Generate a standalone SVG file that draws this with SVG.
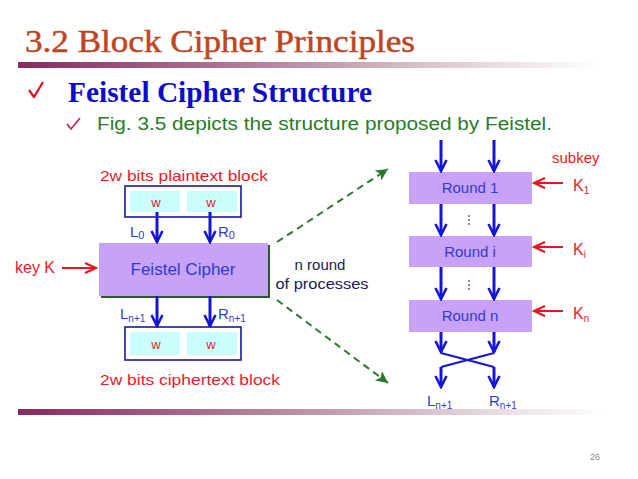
<svg xmlns="http://www.w3.org/2000/svg" width="638" height="479" viewBox="0 0 638 479">
<defs>
<linearGradient id="bar" x1="0" x2="1" y1="0" y2="0">
<stop offset="0" stop-color="#8A2860"/>
<stop offset="0.45" stop-color="#B8899F"/>
<stop offset="0.8" stop-color="#E6D8DF"/>
<stop offset="1" stop-color="#FFFFFF"/>
</linearGradient>
<marker id="ab" markerUnits="userSpaceOnUse" viewBox="0 0 14 14" refX="12" refY="7" markerWidth="14" markerHeight="14" orient="auto">
<path d="M1,1.5 L12,7 L1,12.5" fill="none" stroke="#1414D2" stroke-width="2.6"/>
</marker>
<marker id="ar" markerUnits="userSpaceOnUse" viewBox="0 0 14 14" refX="12" refY="7" markerWidth="14" markerHeight="14" orient="auto">
<path d="M1,2 L12,7 L1,12" fill="none" stroke="#E8141E" stroke-width="2"/>
</marker>
<marker id="ag" markerUnits="userSpaceOnUse" viewBox="0 0 14 14" refX="12" refY="7" markerWidth="14" markerHeight="14" orient="auto">
<path d="M0,1 L12,7 L0,13 L3,7 Z" fill="#2C7A2C"/>
</marker>
<style>
.serif{font-family:"Liberation Serif","Times New Roman",serif}
.c{font-family:"Comic Sans MS","Liberation Sans",Arial,sans-serif}
.red{fill:#E8202A}
.blu{fill:#2E3CCF}
.pl{fill:#C7A2F7}
.cell{fill:#CCFDFD}
.blk{fill:#FFFFFF;stroke:#1A1A9A;stroke-width:1.6}
.ba{stroke:#1414D2;stroke-width:3;fill:none;marker-end:url(#ab)}
.ra{stroke:#E8141E;stroke-width:2;fill:none;marker-end:url(#ar)}
.ga{stroke:#2C7A2C;stroke-width:2;stroke-dasharray:7 5;fill:none;marker-end:url(#ag)}
</style>
</defs>
<rect width="638" height="479" fill="#FFFFFF"/>

<!-- header -->
<text class="serif" x="25" y="52" font-size="31" fill="#BE451F" stroke="#BE451F" stroke-width="0.5" textLength="390" lengthAdjust="spacingAndGlyphs">3.2 Block Cipher Principles</text>
<rect x="18" y="62" width="580" height="6" fill="url(#bar)"/>
<path d="M29,90 L34,97 L43,82" fill="none" stroke="#E01020" stroke-width="2.2" stroke-linejoin="round"/>
<text class="serif" x="68" y="102" font-size="29" font-weight="bold" fill="#0C0CC8" textLength="304" lengthAdjust="spacingAndGlyphs">Feistel Cipher Structure</text>
<path d="M67,124 L71,129 L80,118" fill="none" stroke="#C02040" stroke-width="1.6" stroke-linejoin="round"/>
<text class="c" x="97" y="130" font-size="18" fill="#2A7A2A" textLength="455" lengthAdjust="spacingAndGlyphs">Fig. 3.5 depicts the structure proposed by Feistel.</text>

<!-- footer bar -->
<rect x="18" y="409" width="585" height="6" fill="url(#bar)"/>

<!-- left diagram -->
<g id="plaintext">
<text class="c red" x="184" y="181" font-size="15" text-anchor="middle" textLength="168" lengthAdjust="spacingAndGlyphs">2w bits plaintext block</text>
<rect class="blk" x="125" y="186" width="116" height="31"/>
<rect class="cell" x="130" y="191" width="50" height="21"/>
<rect class="cell" x="187" y="191" width="50" height="21"/>
<text class="c red" x="156" y="207" font-size="13" text-anchor="middle">w</text>
<text class="c red" x="211" y="207" font-size="13" text-anchor="middle">w</text>
</g>
<g id="feistel">
<rect x="101" y="245" width="169" height="53" fill="#2A5A2A"/>
<rect class="pl" x="99" y="243" width="169" height="53"/>
<text class="c blu" x="183" y="275" font-size="17" text-anchor="middle" textLength="105" lengthAdjust="spacingAndGlyphs">Feistel Cipher</text>
</g>
<g id="keyK">
<text class="c red" x="15" y="273" font-size="16" textLength="40" lengthAdjust="spacingAndGlyphs">key K</text>
</g>
<g id="ciphertext">
<rect class="blk" x="125" y="327" width="116" height="33"/>
<rect class="cell" x="130" y="332" width="50" height="23"/>
<rect class="cell" x="187" y="332" width="50" height="23"/>
<text class="c red" x="156" y="349" font-size="13" text-anchor="middle">w</text>
<text class="c red" x="211" y="349" font-size="13" text-anchor="middle">w</text>
<text class="c red" x="190" y="385" font-size="15" text-anchor="middle" textLength="180" lengthAdjust="spacingAndGlyphs">2w bits ciphertext block</text>
</g>
<g id="labels-left" class="c blu">
<text x="130" y="237" font-size="15">L<tspan font-size="11" dy="2">0</tspan></text>
<text x="218" y="237" font-size="15">R<tspan font-size="11" dy="2">0</tspan></text>
<text x="120" y="319" font-size="15">L<tspan font-size="10" dy="3">n+1</tspan></text>
<text x="218" y="319" font-size="15">R<tspan font-size="10" dy="3">n+1</tspan></text>
</g>
<g id="nround" class="c" fill="#1A1A55" font-size="15">
<text x="320" y="270" text-anchor="middle">n round</text>
<text x="322" y="289" text-anchor="middle" textLength="93" lengthAdjust="spacingAndGlyphs">of processes</text>
</g>

<!-- right diagram -->
<g id="round1">
<rect class="pl" x="409" y="172" width="123" height="32"/>
<text class="c blu" x="470" y="193" font-size="15" text-anchor="middle">Round 1</text>
</g>
<g id="roundi">
<rect class="pl" x="409" y="236" width="123" height="31"/>
<text class="c blu" x="470" y="257" font-size="15" text-anchor="middle">Round i</text>
</g>
<g id="roundn">
<rect class="pl" x="409" y="300" width="123" height="32"/>
<text class="c blu" x="470" y="321" font-size="15" text-anchor="middle">Round n</text>
</g>
<g id="subkeys" class="c red">
<text x="552" y="163" font-size="15">subkey</text>
<text x="573" y="191" font-size="16">K<tspan font-size="10" dy="3">1</tspan></text>
<text x="573" y="255" font-size="16">K<tspan font-size="10" dy="3">i</tspan></text>
<text x="573" y="319" font-size="16">K<tspan font-size="10" dy="3">n</tspan></text>
</g>
<g id="dots" fill="#4050C8">
<circle cx="469" cy="216" r="0.9"/><circle cx="469" cy="220" r="0.9"/><circle cx="469" cy="224" r="0.9"/>
<circle cx="469" cy="281" r="0.9"/><circle cx="469" cy="285" r="0.9"/><circle cx="469" cy="289" r="0.9"/>
</g>
<g id="labels-right" class="c blu">
<text x="427" y="406" font-size="15">L<tspan font-size="10" dy="3">n+1</tspan></text>
<text x="489" y="406" font-size="15">R<tspan font-size="10" dy="3">n+1</tspan></text>
</g>

<g id="connectors">
<path class="ba" d="M157,212 V242"/>
<path class="ba" d="M210,212 V242"/>
<path class="ba" d="M157,296 V326"/>
<path class="ba" d="M210,296 V326"/>
<path class="ra" d="M62,268 H96"/>
<path class="ga" d="M277,242 L388,169"/>
<path class="ga" d="M277,300 L388,383"/>
<path class="ba" d="M441,140 V171"/>
<path class="ba" d="M494,140 V171"/>
<path class="ba" d="M441,204 V235"/>
<path class="ba" d="M494,204 V235"/>
<path class="ba" d="M441,267 V299"/>
<path class="ba" d="M494,267 V299"/>
<path class="ba" d="M441,332 V352"/>
<path class="ba" d="M494,332 V352"/>
<path d="M441,353 L494,367 M494,353 L441,367" stroke="#1414D2" stroke-width="2" fill="none"/>
<path class="ba" d="M441,367 V387"/>
<path class="ba" d="M494,367 V387"/>
<path class="ra" d="M563,183 H534"/>
<path class="ra" d="M563,247 H534"/>
<path class="ra" d="M563,311 H534"/>
</g>

<text x="595" y="460" font-family="Liberation Sans, Arial, sans-serif" font-size="9" fill="#8A8A8A" text-anchor="middle">26</text>
</svg>
